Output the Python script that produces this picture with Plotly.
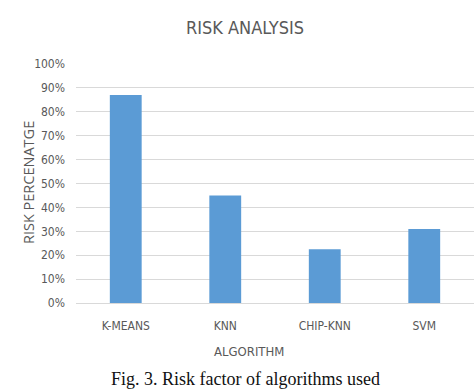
import plotly.graph_objects as go

algorithms = ["K-MEANS", "KNN", "CHIP-KNN", "SVM"]
risk = [0.87, 0.45, 0.225, 0.31]
ytick_vals = [0, 0.1, 0.2, 0.3, 0.4, 0.5, 0.6, 0.7, 0.8, 0.9, 1.0]
ytick_text = ["0%", "10%", "20%", "30%", "40%", "50%", "60%", "70%", "80%", "90%", "100%"]

narrow = "DejaVu Sans Condensed, Liberation Sans Narrow, Arial Narrow, Liberation Sans, sans-serif"
gray = "#595959"

W, H = 474, 389
L, R, T, B = 76, 0, 64, 86
plot_h = H - T - B
plot_w = W - L - R

def py(ypix):
    return (H - B - ypix) / plot_h

def px(xpix):
    return (xpix - L) / plot_w

fig = go.Figure(go.Bar(x=algorithms, y=risk, marker=dict(color="#5B9BD5", line=dict(width=0))))

fig.update_layout(
    width=W, height=H,
    margin=dict(l=L, r=R, t=T, b=B),
    paper_bgcolor="white", plot_bgcolor="white",
    bargap=0.68,
    showlegend=False,
    font=dict(family=narrow, color=gray, size=12),
    title=dict(text="RISK ANALYSIS", x=245 / W, xanchor="center", xref="container",
               y=1 - 28 / H, yanchor="middle", yref="container",
               font=dict(family=narrow, size=18, color=gray)),
    xaxis=dict(showgrid=False, showline=True, linecolor="#D9D9D9", linewidth=1,
               ticks="", tickfont=dict(size=12, family=narrow, color=gray),
               ticklabelstandoff=12),
    yaxis=dict(range=[0, 1], tickvals=ytick_vals, ticktext=ytick_text,
               showgrid=True, gridcolor="#D9D9D9", gridwidth=1, zeroline=False,
               showline=False, ticks="", tickfont=dict(size=12, family=narrow, color=gray),
               ticklabelstandoff=10),
    annotations=[
        dict(text="RISK PERCENATGE", x=px(28), y=py(183), xref="paper", yref="paper",
             showarrow=False, xanchor="center", yanchor="middle", textangle=-90,
             font=dict(family="Open Sans, Liberation Sans, sans-serif", size=14.5, color=gray)),
        dict(text="ALGORITHM", x=px(249), y=py(351), xref="paper", yref="paper",
             showarrow=False, xanchor="center", yanchor="middle",
             font=dict(family=narrow, size=13, color=gray)),
        dict(text="Fig. 3. Risk factor of algorithms used", x=px(245), y=py(379), xref="paper", yref="paper",
             showarrow=False, xanchor="center", yanchor="middle",
             font=dict(family="Liberation Serif, Times New Roman, serif", size=18, color="#111111")),
    ],
)

fig.write_html("out.html", config={"displayModeBar": False},
               post_script="document.body.style.margin='0px';")
